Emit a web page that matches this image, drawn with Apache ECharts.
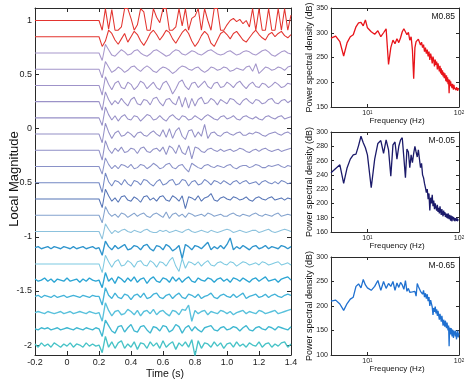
<!DOCTYPE html>
<html><head><meta charset="utf-8">
<script src="https://cdn.jsdelivr.net/npm/echarts@6/dist/echarts.min.js"></script>
<style>html,body{margin:0;padding:0;background:#fff}#c{width:474px;height:387px}</style>
</head><body><div id="c"></div>
<script>
// ---------------- DATA ----------------
// Local magnitudes of the stacked traces (trace baselines)
const magnitudes = [1.00,0.85,0.70,0.55,0.40,0.25,0.10,-0.05,-0.20,-0.35,-0.50,-0.65,-0.80,-0.95,-1.10,-1.25,-1.40,-1.55,-1.70,-1.85,-2.00];
const yTickValues = [-2,-1.5,-1,-0.5,0,0.5,1];
// Trace sampling (s) and amplitude unit (magnitude units per count)
const T_START = -0.2, T_ONSET = 0.2, DT = 0.02, AMP_UNIT = 0.01;

// Waveform offsets after onset (t = 0.20 ... 1.40 s)
const tr_p100 = [0,-9,11,-8,10,-9,-9,-6,11,11, 2,-9,-4,11,8,-9,-9,11,3,-2, 11,11,-9,-9,-6,11,-5,11,-9,2, 4,11,-9,11,0,-9,11,11,-9,-9, -4,0,2,-1,1,-3,0,-6,11,-9, 11,-9,-9,11,-9,-9,11,-9,11,-9, 5];
const tr_p085 = [0,-9,-4,6,3,-3,-7,-2,3,-5, 0,5,2,-4,-8,-3,3,6,2,-3, 1,6,4,-2,-6,-1,4,7,3,-4, -9,-5,1,5,2,-6,-9,-3,3,5, 2,-2,3,5,1,-3,-5,-1,3,6, 2,-1,-3,2,4,0,3,5,1,-1, 2];
const tr_p070 = [0,-7,8,3,-2,-3,0,3,1,-2, -1,2,3,0,-2,-3,-1,2,3,1, -1,-3,-2,1,3,2,-1,-2,0,2, 1,-1,-2,0,2,3,1,-1,-2,-1, 1,2,0,-2,-1,1,2,1,-1,-2, 0,2,3,1,-2,-3,-1,1,2,0, -1];
const tr_p055 = [0,-8,7,2,-3,-1,2,0,-3,-1, 2,3,0,-2,1,3,1,-2,-3,0, 2,1,-1,-4,-2,1,3,2,0,-1, 1,2,-1,-3,-1,2,1,-1,0,2, 1,-2,-1,1,0,-1,2,3,-2,5, -4,-1,2,1,-1,0,2,1,-1,2, 3];
const tr_p040 = [0,-9,8,1,-4,2,4,-2,-3,3, 1,-4,-1,4,2,-3,0,3,-2,-4, 2,4,-1,-8,-3,3,5,-1,-4,2, 3,-2,1,4,-1,-3,2,3,-2,-1, 3,1,-2,2,4,0,-3,1,3,-1, -2,2,1,-2,0,3,1,-2,-1,2, 1];
const tr_p025 = [0,-8,9,2,-3,1,-2,3,-1,-4, 2,4,-2,-3,2,1,-3,3,4,-1, -4,2,3,-1,-3,5,-5,4,-6,3, -4,2,4,-2,-1,3,1,-3,2,0, -2,3,2,-1,-3,1,3,0,-2,2, 1,-2,-1,2,3,-1,-2,1,2,-1, 1];
const tr_p010 = [0,-7,10,3,-2,2,-3,1,3,-1, -2,2,1,-3,0,3,2,-2,-1,2, -1,-3,1,3,0,-2,2,1,-2,-1, 2,0,-2,1,3,1,-1,-2,1,2, -1,0,2,-1,-2,1,2,0,-1,1, -1,-2,1,2,0,-1,1,2,-1,0, 1];
const tr_m005 = [0,-8,10,2,-4,1,3,-2,-1,2, 0,-3,1,2,-1,-2,1,3,0,-2, 4,-3,5,-4,3,6,-2,-5,3,4, -3,2,-2,9,-4,1,2,-1,-2,1, 2,0,-1,1,2,-1,-1,1,0,2, 1,-1,-2,0,1,2,0,-1,1,2, 0];
const tr_m020 = [0,-9,9,1,-3,2,-1,3,-2,-1, 2,1,-3,2,3,-1,-2,1,2,-1, 3,-4,4,2,-3,5,-2,-4,4,-8, 3,2,-1,-2,1,2,0,-1,1,-1, 0,1,-1,0,2,1,-1,-2,0,1, -1,1,2,0,-1,0,1,-1,0,1, 2];
const tr_m035 = [0,-7,8,2,-2,1,-2,2,1,-1, 2,-2,-1,2,1,-2,0,3,1,-2, -1,2,3,-1,-2,1,2,-2,-5,3, 1,-1,-2,1,2,0,-1,1,0,-1, 1,2,-1,-2,0,1,1,-1,0,2, 1,-1,-1,1,0,1,2,0,-1,1, 0];
const tr_m050 = [0,-9,9,1,-3,2,1,-2,3,-1, -3,2,1,-2,3,2,-1,-3,1,3, -2,-1,2,3,-2,-1,3,2,-3,1, 2,-2,-1,3,1,-2,2,1,-1,2, 0,-2,1,2,-1,1,2,-1,0,1, -2,1,2,0,-1,1,-1,2,1,-1, 0];
const tr_m065 = [0,-8,9,3,-2,1,-3,2,3,-1, -2,2,0,-3,2,3,-1,1,-2,2, 3,-1,-2,3,1,-2,3,-9,2,1, -1,3,-2,1,2,5,-1,-2,1,2, 0,-1,2,1,-1,0,2,-1,-2,1, 2,0,-1,1,2,-1,0,1,-1,1, 0];
const tr_m080 = [0,-7,8,2,-1,1,-2,2,1,-2, 0,2,-1,1,2,-1,-2,1,2,0, -2,3,-3,1,2,-1,1,-2,2,1, -1,0,1,-1,2,1,-1,0,1,-1, -1,1,2,0,-1,1,0,-1,1,2, 0,-1,1,0,-1,1,2,-1,0,1, 0];
const tr_m095 = [0,-7,7,2,-2,1,-1,1,2,0, -1,1,0,-1,1,2,0,-1,-1,1, 0,1,-1,0,1,0,-1,1,2,0, -1,0,1,0,-1,1,0,-1,0,1, 2,1,-1,0,1,0,-1,0,1,1, -1,0,1,2,0,-1,0,1,2,1, 0];
const tr_m110 = [0,-7,6,1,-2,2,-1,1,3,-2, -1,2,1,-2,2,3,-1,-3,2,1, -2,3,1,-3,-1,2,-10,3,1,-2, 2,1,-1,2,5,-2,1,-1,2,-1, 3,9,-2,1,-1,2,0,-2,1,2, -1,0,2,-1,1,0,-1,2,1,-1, 1];
const tr_m125 = [0,-8,8,2,-3,2,4,-2,-1,3, 1,-3,2,3,-1,-2,3,1,-3,2, 1,-2,3,6,-2,-7,5,-4,2,1, -1,2,-2,1,3,-1,-2,1,2,0, -1,2,1,-2,0,2,1,-1,0,1, -1,2,1,-1,0,1,2,-1,0,1, -1];
const tr_m140 = [0,-7,7,-1,2,-3,3,1,-2,2, -1,3,-2,1,2,-3,1,3,-1,-2, 2,1,-2,3,-1,2,-2,1,3,-1, -2,2,0,-1,2,1,-2,1,2,-1, 1,-2,2,1,-1,2,0,-2,1,2, -1,1,3,-1,0,1,-2,1,2,3, 0];
const tr_m155 = [0,-8,8,1,-2,3,-1,-2,2,1, -3,1,2,-1,3,-2,-1,2,3,-1, -2,1,2,-2,1,3,-1,-2,2,1, -1,2,-2,0,1,3,-1,-2,1,2, 0,-1,2,-1,1,3,-2,0,1,2, -1,0,2,-1,1,2,0,-1,1,2, 1];
const tr_m170 = [0,-8,9,2,-3,1,2,-2,-1,3, 1,-2,2,-3,1,2,-1,3,-2,1, 2,-1,-3,2,1,-2,3,2,7,-8, 2,-1,1,2,-2,1,0,-1,2,1, -1,1,-2,0,1,2,-1,1,0,-1, 2,1,-1,0,1,2,-1,0,1,2, 3];
const tr_m185 = [0,-7,8,3,-2,-4,2,3,-3,1, 4,-2,-3,2,3,-1,-4,2,1,-2, 3,2,-3,-1,4,2,-4,1,3,-2, 2,-1,-3,1,2,3,-1,-2,1,2, -1,0,2,1,-2,1,3,-1,-2,1, 2,0,-1,2,1,-1,2,1,0,-1, 2];
const tr_m200 = [0,-7,8,-2,3,-3,2,4,-3,1, -2,3,-4,2,1,-3,3,-1,2,-3, 4,-2,1,3,-4,2,-1,3,-2,5, -10,4,-3,2,1,-2,3,-1,2,-3, 1,2,-2,3,-1,1,-2,2,0,-1, 3,-2,1,2,-2,1,-1,2,3,-2, 1];
// Pre-event noise (t = -0.20 ... 0.18 s) for the noisy low-magnitude traces
const pre_m110 = [0,1,-1,0,1,-1,1,0,-1,1, 0,-1,1,-1,0,1,-1,0,1,-1];
const pre_m140 = [1,-1,0,2,-1,1,-2,1,0,-1, 2,-1,0,1,-2,1,-1,2,0,-1];
const pre_m155 = [0,1,-1,1,0,-1,1,-1,0,1, -1,0,1,0,-1,1,0,-1,1,0];
const pre_m170 = [0,1,0,-1,1,0,-1,0,1,-1, 0,1,-1,0,1,0,-1,1,0,-1];
const pre_m185 = [0,-1,1,0,1,-1,0,1,-1,0, 1,0,-1,1,0,-1,1,0,-1,1];
const pre_m200 = [1,-2,2,-1,1,-2,2,0,-2,1, -1,2,-2,1,0,-2,2,-1,1,-1];

const traceAfter = [tr_p100,tr_p085,tr_p070,tr_p055,tr_p040,tr_p025,tr_p010,tr_m005,tr_m020,tr_m035,tr_m050,tr_m065,tr_m080,tr_m095,tr_m110,tr_m125,tr_m140,tr_m155,tr_m170,tr_m185,tr_m200];
const traceBefore = [null,null,null,null,null,null,null,null,null,null,null,null,null,null,pre_m110,null,pre_m140,pre_m155,pre_m170,pre_m185,pre_m200];

// PSD frequency grid (Hz)
const psdFreqLow = [4,4.5,5,5.5,6,6.5,7,7.5,8,8.5,9,9.5,10];
const psdFreqHigh = [11,12,13,14,15,16,17,18,19,20,21,22,23,24,25,26,27,28,29,30,31,32,33,34,35,36,37,38,39,40,41,42,43,44,45,46,47,48,49,50,51,52,53,54,55,56,57,58,59,60,61,62,63,64,65,66,67,68,69,70,71,72,73,74,75,76,77,78,79,80,81,82,83,84,85,86,87,88,89,90,91,92,93,94,95,96,97,98,99,100];
// PSD values (dB)
const psd_M085 = [289,293,282,253,280,292,296,312,320,321,314,326,310,
 302,297,304,292,300,308,236,270,285,278, 288,280,290,302,308,305,296,301,285,292,
 265,207,270,282,278,287,283,275,281,270, 276,262,270,258,266,252,262,245,258,250,
 238,252,244,232,246,235,242,226,238,230, 222,233,218,228,215,224,212,220,208,218,
 210,202,214,200,210,196,206,178,205,192, 202,195,199,188,197,191,185,195,189,193,
 186,192,184,190,186,189,183,188,185,187];
const psd_Mm005 = [243,249,254,228,250,262,268,269,281,294,285,278,268,
 222,262,284,288,270,289,275,238,282,286, 262,280,289,292,264,236,276,272,250,268,
 257,270,280,272,265,275,262,250,256,240, 236,228,222,215,220,206,214,190,208,200,
 212,196,204,192,200,194,190,198,188,194, 186,196,189,184,192,186,182,190,184,188,
 181,186,180,185,179,186,182,178,184,180, 176,183,179,175,182,178,181,176,180,175,
 179,177,181,176,180,175,178,176,179,177];
const psd_Mm065 = [210,212,204,191,205,214,218,240,245,237,254,243,237,
 232,240,252,232,250,236,246,240,250,232, 247,238,248,243,234,252,230,236,228,232,
 229,226,230,220,246,240,236,230,234,224, 232,218,226,215,224,210,218,200,212,205,
 198,182,196,188,199,185,193,180,190,186, 172,184,176,168,180,170,160,172,165,158,
 170,162,155,166,158,150,160,118,156,150, 142,155,148,138,152,144,135,150,142,148,
 138,150,140,132,146,138,150,136,144,140];
const psdLabels = ['M0.85','M-0.05','M-0.65'];

// ---------------- STYLE ----------------
const FONT = 'Liberation Sans, Arial, sans-serif';
const AX = '#2a2a2a';
const traceColors = ['#e3342f','#e3342f','#a898cc','#a395ca','#9f93c9','#9b92c8','#9790c7','#938fc6','#8f8fc6','#8a92c8','#7388c4','#5574b6','#84a3ce','#8cc2dd','#2f95cd','#7dc9e1','#2ca5d4','#43b3d9','#58c1dc','#40b8d1','#47c3c7'];
const psdColors = ['#e8141a','#1b1a6a','#1f70d0'];
const psdRanges = [[150,350,50],[160,300,20],[100,300,50]];
const psdTops = [8,132,257];
const psdHeights = [99,100,98];

// ---------------- BUILD ----------------
const series = [];
magnitudes.forEach((m, k) => {
  const data = [];
  const pre = traceBefore[k];
  if (pre) pre.forEach((v, i) => data.push([+(T_START + i * DT).toFixed(3), m + v * AMP_UNIT]));
  else data.push([T_START, m]);
  traceAfter[k].forEach((v, i) => data.push([+(T_ONSET + i * DT).toFixed(3), m + v * AMP_UNIT]));
  series.push({type:'line', xAxisIndex:0, yAxisIndex:0, data, symbol:'none', smooth:false,
    clip:true, lineStyle:{color:traceColors[k], width: pre ? 1.35 : 1.05}, silent:true, z:2});
});
const psdFreq = psdFreqLow.concat(psdFreqHigh);
[psd_M085, psd_Mm005, psd_Mm065].forEach((vals, p) => {
  series.push({type:'line', xAxisIndex:2 + 2*p, yAxisIndex:2 + 2*p, symbol:'none', clip:true, silent:true,
    data: psdFreq.map((f, i) => [f, vals[i]]), lineStyle:{color:psdColors[p], width:1.3}});
});

const grids = [{left:35, top:8, width:256, height:347}];
psdTops.forEach((t, p) => grids.push({left:331, top:t, width:128, height:psdHeights[p]}));
grids.forEach(g => { g.outerBoundsMode = 'none'; g.containLabel = false; });

const lineCfg = {show:true, onZero:false, lineStyle:{color:AX, width:1}};
const tickCfg = (len) => ({show:true, inside:true, length:len, lineStyle:{color:AX, width:1}});

const xAxes = [
  {type:'value', gridIndex:0, position:'bottom', min:-0.2, max:1.4, interval:0.2,
   axisLine:lineCfg, axisTick:tickCfg(4), splitLine:{show:false},
   axisLabel:{fontSize:9, color:'#222', fontFamily:FONT, margin:3, showMinLabel:true, showMaxLabel:true,
     formatter: v => Math.abs(v) < 1e-9 ? '0' : v.toFixed(1)}},
  {type:'value', gridIndex:0, position:'top', min:-0.2, max:1.4, interval:0.2,
   axisLine:lineCfg, axisTick:tickCfg(4), splitLine:{show:false}, axisLabel:{show:false}}
];
const yAxes = [
  {type:'value', gridIndex:0, position:'left', min:-2.092, max:1.1155,
   axisLine:lineCfg, axisTick:Object.assign(tickCfg(4), {customValues:yTickValues}), splitLine:{show:false},
   axisLabel:{fontSize:9, color:'#222', fontFamily:FONT, margin:3, customValues:yTickValues, formatter: v => String(v)}},
  {type:'value', gridIndex:0, position:'right', min:-2.092, max:1.1155,
   axisLine:lineCfg, axisTick:Object.assign(tickCfg(4), {customValues:yTickValues}), splitLine:{show:false},
   axisLabel:{show:false}}
];
const isPow = (v, n) => Math.abs(Math.log10(v) - n) < 1e-6;
psdRanges.forEach((r, p) => {
  const gi = p + 1;
  xAxes.push({type:'log', logBase:10, gridIndex:gi, position:'bottom', min:4, max:100,
    axisLine:lineCfg, axisTick:Object.assign(tickCfg(3), {customValues:[10,100]}), minorTick:{show:false}, splitLine:{show:false},
    axisLabel:{customValues:[10,100], margin:3, color:'#222', fontFamily:FONT, fontSize:7,
      formatter: v => isPow(v,1) ? '10{s|1}' : (isPow(v,2) ? '10{s|2}' : ''),
      rich:{s:{fontSize:4.5, verticalAlign:'top', fontFamily:FONT, color:'#222'}}}});
  xAxes.push({type:'log', logBase:10, gridIndex:gi, position:'top', min:4, max:100,
    axisLine:lineCfg, axisTick:Object.assign(tickCfg(3), {customValues:[10,100]}), minorTick:{show:false}, splitLine:{show:false},
    axisLabel:{show:false}});
  yAxes.push({type:'value', gridIndex:gi, position:'left', min:r[0], max:r[1], interval:r[2],
    axisLine:lineCfg, axisTick:tickCfg(3), splitLine:{show:false},
    axisLabel:{fontSize:7, color:'#222', fontFamily:FONT, margin:3, showMinLabel:true, showMaxLabel:true}});
  yAxes.push({type:'value', gridIndex:gi, position:'right', min:r[0], max:r[1], interval:r[2],
    axisLine:lineCfg, axisTick:tickCfg(3), splitLine:{show:false}, axisLabel:{show:false}});
});

const graphic = [
  {type:'text', x:14, y:179, rotation:Math.PI/2, style:{text:'Local Magnitude', font:'13px '+FONT, fill:'#111', textAlign:'center', textVerticalAlign:'middle'}},
  {type:'text', x:165, y:374, style:{text:'Time (s)', font:'10.5px '+FONT, fill:'#111', textAlign:'center', textVerticalAlign:'middle'}}
];
psdTops.forEach((t, p) => {
  const h = psdHeights[p];
  graphic.push({type:'text', x:310, y:t + h/2, rotation:Math.PI/2, style:{text:'Power spectral density (dB)', font:'9px '+FONT, fill:'#111', textAlign:'center', textVerticalAlign:'middle'}});
  graphic.push({type:'text', x:397, y:t + h + 13.5, style:{text:'Frequency (Hz)', font:'8px '+FONT, fill:'#111', textAlign:'center', textVerticalAlign:'middle'}});
  graphic.push({type:'text', x:455, y:t + 9, style:{text:psdLabels[p], font:'8.5px '+FONT, fill:'#111', textAlign:'right', textVerticalAlign:'middle'}});
});

const chart = echarts.init(document.getElementById('c'), null, {renderer:'canvas'});
chart.setOption({animation:false, backgroundColor:'#fff', grid:grids, xAxis:xAxes, yAxis:yAxes, series, graphic});
</script></body></html>
